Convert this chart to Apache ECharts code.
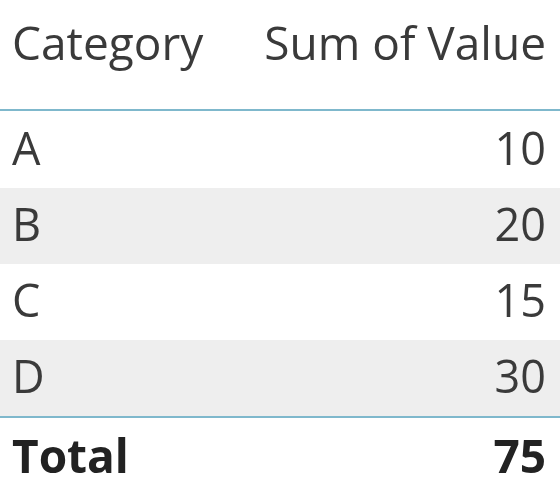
<!DOCTYPE html>
<html><head><meta charset="utf-8">
<script src="https://cdn.jsdelivr.net/npm/echarts@6/dist/echarts.min.js"></script>
<style>html,body{margin:0;padding:0;background:#fff}#main{width:560px;height:498px}</style>
</head><body><div id="main"></div>
<script>
var headers = ['Category', 'Sum of Value'];
var categories = ['A', 'B', 'C', 'D'];
var values = [10, 20, 15, 30];
var totalLabel = 'Total';
var total = values.reduce(function (a, b) { return a + b; }, 0);

var chart = echarts.init(document.getElementById('main'));
var font = '"Open Sans", "Noto Sans", sans-serif';
var top0 = 112, rowH = 76, left = 12, right = 546;
var els = [];

// header
els.push({ type: 'text', x: left, y: 47, style: { text: headers[0], font: '46px ' + font, fill: '#3a3a3a', verticalAlign: 'middle' } });
els.push({ type: 'text', x: right, y: 47, style: { text: headers[1], font: '46px ' + font, fill: '#3a3a3a', align: 'right', verticalAlign: 'middle' } });
els.push({ type: 'rect', shape: { x: 0, y: 109, width: 560, height: 2 }, style: { fill: '#7fb8cc' } });

categories.forEach(function (c, i) {
  var y = top0 + i * rowH;
  if (i % 2 === 1) els.push({ type: 'rect', shape: { x: 0, y: y, width: 560, height: rowH }, style: { fill: '#eeeeee' } });
  els.push({ type: 'text', x: left, y: y + rowH / 2 + 2, style: { text: c, font: '45px ' + font, fill: '#3a3a3a', verticalAlign: 'middle' } });
  els.push({ type: 'text', x: right, y: y + rowH / 2 + 2, style: { text: String(values[i]), font: '45px ' + font, fill: '#3a3a3a', align: 'right', verticalAlign: 'middle' } });
});

var yEnd = top0 + categories.length * rowH;
els.push({ type: 'rect', shape: { x: 0, y: yEnd, width: 560, height: 2 }, style: { fill: '#7fb8cc' } });
els.push({ type: 'text', x: left, y: yEnd + 44, style: { text: totalLabel, font: 'bold 46px ' + font, fill: '#222', verticalAlign: 'middle' } });
els.push({ type: 'text', x: right, y: yEnd + 44, style: { text: String(total), font: 'bold 46px ' + font, fill: '#222', align: 'right', verticalAlign: 'middle' } });

chart.setOption({ animation: false, graphic: els });
</script></body></html>
